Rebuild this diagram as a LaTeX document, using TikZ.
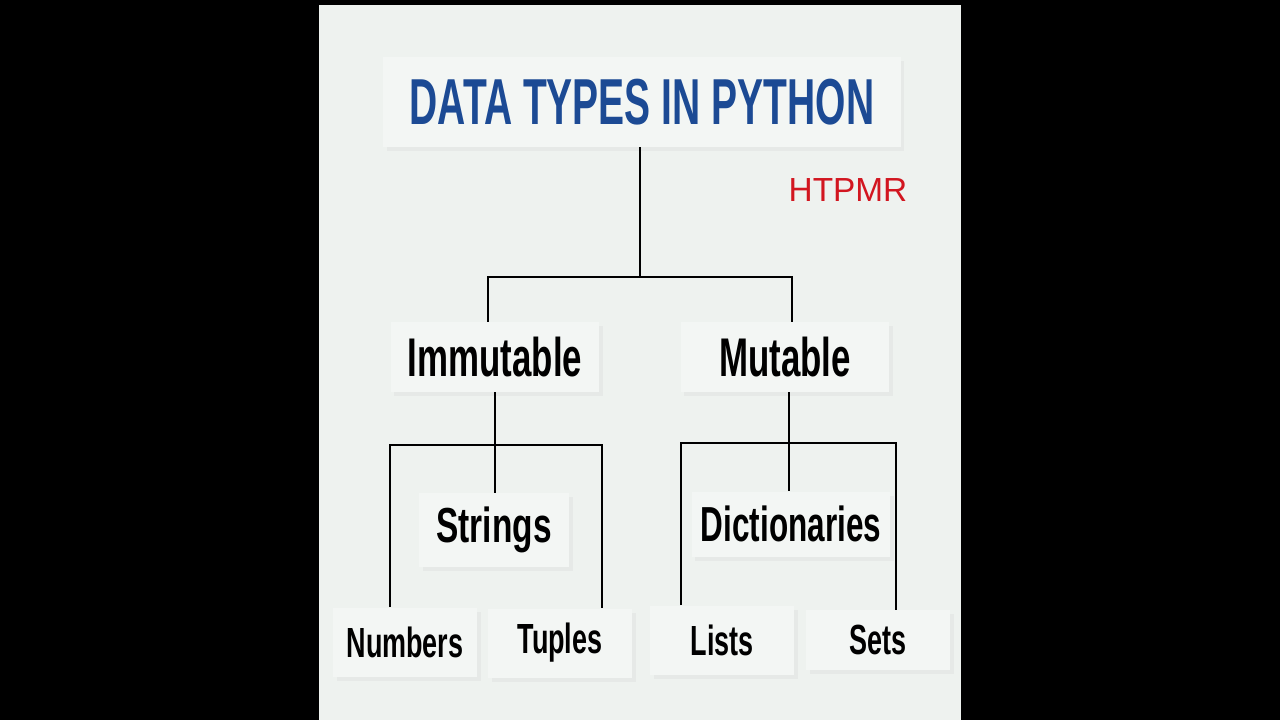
\documentclass[tikz,border=0pt]{standalone}
\usepackage{fontspec}
\setmainfont{Liberation Sans}
\usepackage{graphicx}
\usepackage{tikz}
\usetikzlibrary{positioning,calc,shadows}

\definecolor{panelbg}{RGB}{238,242,239}
\definecolor{boxbg}{RGB}{243,246,244}
\definecolor{titleblue}{RGB}{28,74,148}
\definecolor{markred}{RGB}{210,22,32}
\newcommand{\narrow}[2][0.64]{\scalebox{#1}[1]{#2}}

\begin{document}
\begin{tikzpicture}[
    x=0.02cm, y=-0.02cm,
    typebox/.style={rectangle, fill=boxbg, text=black, inner sep=0pt,
        drop shadow={opacity=0.07, shadow xshift=2pt, shadow yshift=-2.5pt}},
    big/.style={typebox, minimum width=4.18cm, minimum height=1.4cm, font=\bfseries\fontsize{31}{34}\selectfont},
    mid/.style={typebox, font=\bfseries\fontsize{28}{32}\selectfont},
    leaf/.style={typebox, minimum width=2.88cm, minimum height=1.38cm, font=\bfseries\fontsize{24}{28}\selectfont},
    link/.style={draw=black, line width=1.6pt}
]
\useasboundingbox (0,0) rectangle (1280,720);
\fill[black] (0,0) rectangle (1280,720);
\fill[panelbg] (319,5) rectangle (961,720);

% Title
\node[typebox, minimum width=10.36cm, minimum height=1.8cm, text=titleblue,
      font=\bfseries\fontsize{37}{40}\selectfont] (title) at (642,102) {\narrow[0.6]{DATA TYPES IN PYTHON}};
\node[text=markred, font=\fontsize{19}{23}\selectfont] (mark) at (848,190) {HTPMR};

% Two groups
\node[big] (imm) at (495,357) {\narrow{Immutable}};
\node[big] (mut) at (785,357) {\narrow{Mutable}};

% Middle children
\node[mid, minimum width=3cm, minimum height=1.48cm] (str) at (494,530) {\narrow[0.68]{Strings}};
\node[mid, minimum width=3.98cm, minimum height=1.3cm] (dict) at (791,524) {\narrow{Dictionaries}};

% Leaves
\node[leaf] (num) at (405,642) {\narrow{Numbers}};
\node[leaf] (tup) at (560,643) {\narrow{Tuples}};
\node[leaf] (lst) at (722,640) {\narrow{Lists}};
\node[leaf, minimum height=1.2cm] (set) at (878,640) {\narrow{Sets}};

% Junctions
\coordinate (top) at (640,277);
\coordinate (topl) at (488,277);
\coordinate (topr) at (792,277);
\coordinate (il) at (390,445);
\coordinate (ir) at (602,445);
\coordinate (ml) at (681,443);
\coordinate (mr) at (896,443);

% Lines
\draw[link] (title.south -| top) -- (top);
\draw[link] (topl |- imm.north) -- (topl) -- (topr) -- (topr |- mut.north);
\draw[link] (imm.south) -- (str.north -| imm.south);
\draw[link] (il |- num.north) -- (il) -- (ir) -- (ir |- tup.north);
\draw[link] (mut.south -| 789,0) -- (dict.north -| 789,0);
\draw[link] (ml |- lst.north) -- (ml) -- (mr) -- (mr |- set.north);
\end{tikzpicture}
\end{document}
